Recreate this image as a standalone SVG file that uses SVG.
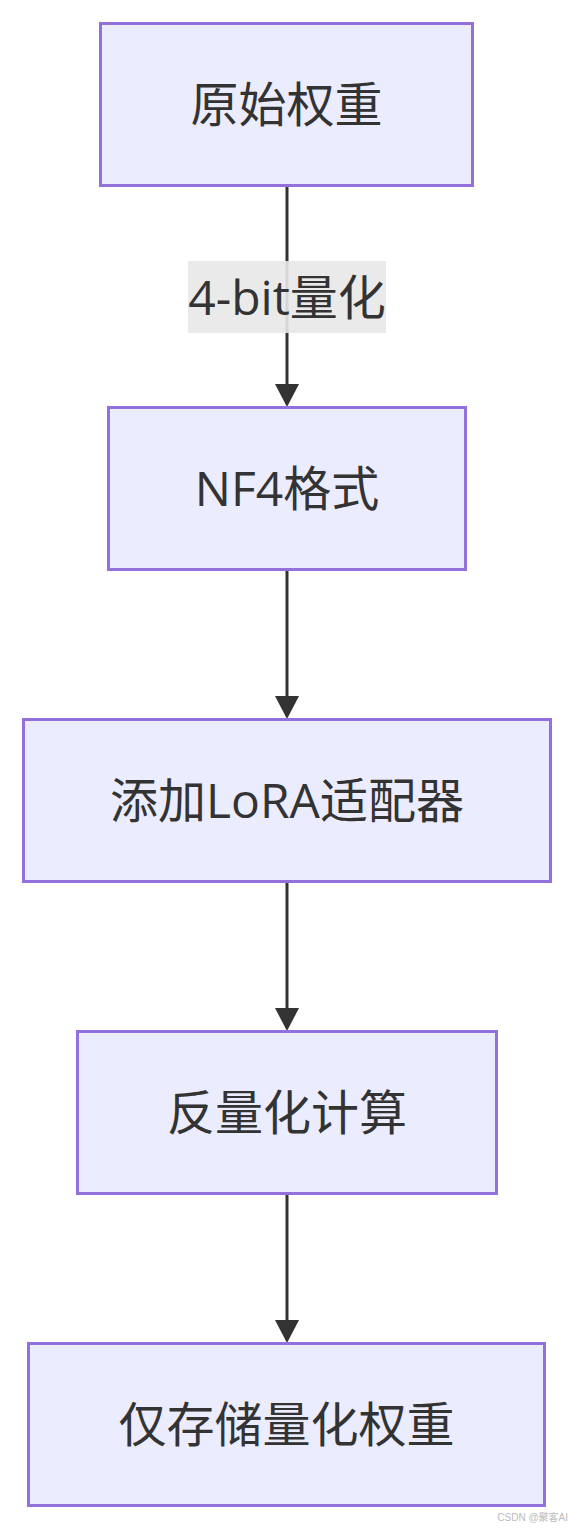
<svg xmlns="http://www.w3.org/2000/svg" width="574" height="1530" viewBox="0 0 574 1530">
<style>
.node rect{fill:#ECECFF;stroke:#9370DB;stroke-width:3}
.node text{font-family:"Open Sans","Noto Sans CJK SC",sans-serif;font-size:48px;fill:#333;text-anchor:middle;dominant-baseline:central}
.edge{stroke:#333;stroke-width:3;fill:none}
.elabel rect{fill:#e8e8e8}
.elabel text{font-family:"Open Sans","Noto Sans CJK SC",sans-serif;font-size:48px;fill:#333;text-anchor:middle;dominant-baseline:central}
</style>
<rect width="574" height="1530" fill="#fff"/>
<g id="connectors">
<line class="edge" x1="287" y1="186" x2="287" y2="384"/>
<path d="M275,384 L299,384 L287,407 z" fill="#333"/>
<line class="edge" x1="287" y1="570" x2="287" y2="696"/>
<path d="M275,696 L299,696 L287,719 z" fill="#333"/>
<line class="edge" x1="287" y1="882" x2="287" y2="1008"/>
<path d="M275,1008 L299,1008 L287,1031 z" fill="#333"/>
<line class="edge" x1="287" y1="1194" x2="287" y2="1320"/>
<path d="M275,1320 L299,1320 L287,1343 z" fill="#333"/>
<g class="elabel" id="label-quant">
<rect x="188" y="261" width="198" height="72" opacity="0.9"/>
<text x="287" y="296">4-bit量化</text>
</g>
</g>
<g class="node" id="node-original">
<rect x="100.5" y="23.5" width="372" height="162"/>
<text x="286.5" y="103">原始权重</text>
</g>
<g class="node" id="node-nf4">
<rect x="108.5" y="407.5" width="357" height="162"/>
<text x="287" y="487">NF4格式</text>
</g>
<g class="node" id="node-lora">
<rect x="23.5" y="719.5" width="527" height="162"/>
<text x="287" y="799">添加LoRA适配器</text>
</g>
<g class="node" id="node-dequant">
<rect x="77.5" y="1031.5" width="419" height="162"/>
<text x="287" y="1111">反量化计算</text>
</g>
<g class="node" id="node-store">
<rect x="28.5" y="1343.5" width="516" height="162"/>
<text x="286.5" y="1423">仅存储量化权重</text>
</g>
<text x="568" y="1517" font-family="'Liberation Sans','Noto Sans CJK SC',sans-serif" font-size="10" fill="#bbb" text-anchor="end" dominant-baseline="central">CSDN @聚客AI</text>
</svg>
